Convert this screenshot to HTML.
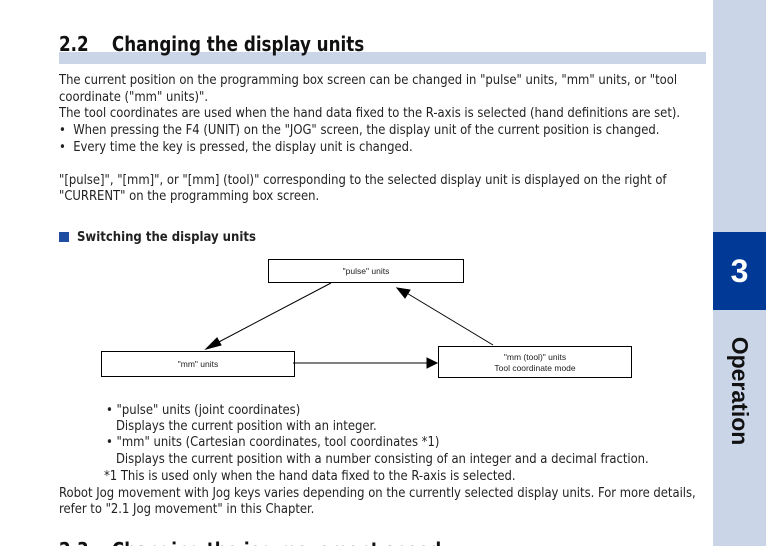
<!DOCTYPE html>
<html><head><style>
html,body{margin:0;width:766px;height:546px;overflow:hidden}
body{background:#fff;position:relative;font-family:"DejaVu Sans Condensed","Liberation Sans Narrow","Liberation Sans",sans-serif;color:#222}
.t{position:absolute;font-size:12.9px;white-space:nowrap;line-height:16px;margin-top:1px}
.side{position:absolute;left:713px;top:0;width:53px;height:546px;background:#cbd5e8}
.box{position:absolute;border:1px solid #000;font-family:"Liberation Sans",sans-serif;font-size:8.5px;text-align:center;background:#fff}
</style></head><body>
<div class="side"></div>
<div style="position:absolute;left:713px;top:232px;width:53px;height:78px;background:#003a96;color:#fff;font:bold 32px 'Liberation Sans',sans-serif;text-align:center;line-height:78px">3</div>
<div style="position:absolute;left:680px;top:376px;width:120px;height:30px;transform:rotate(90deg);font:bold 23px 'Liberation Sans',sans-serif;text-align:center;line-height:30px;color:#111">Operation</div>
<div style="position:absolute;left:59px;top:52px;width:647px;height:12px;background:#cbd5e8"></div>
<div style="position:absolute;left:59px;top:32px;font-size:20px;font-weight:bold;color:#111;white-space:nowrap;transform:scaleX(0.93);transform-origin:left">2.2&nbsp;&nbsp;&nbsp;&nbsp;Changing the display units</div>
<div class="t" style="left:59px;top:72px">The current position on the programming box screen can be changed in "pulse" units, "mm" units, or "tool</div>
<div class="t" style="left:59px;top:89px">coordinate ("mm" units)".</div>
<div class="t" style="left:59px;top:105px">The tool coordinates are used when the hand data fixed to the R-axis is selected (hand definitions are set).</div>
<div class="t" style="left:59px;top:122px">•&nbsp;&nbsp;When pressing the F4 (UNIT) on the "JOG" screen, the display unit of the current position is changed.</div>
<div class="t" style="left:59px;top:139px">•&nbsp;&nbsp;Every time the key is pressed, the display unit is changed.</div>
<div class="t" style="left:59px;top:172px">"[pulse]", "[mm]", or "[mm] (tool)" corresponding to the selected display unit is displayed on the right of</div>
<div class="t" style="left:59px;top:188px">"CURRENT" on the programming box screen.</div>
<div style="position:absolute;left:59px;top:232px;width:10px;height:10px;background:#1f4ea0"></div>
<div class="t" style="left:77px;top:229px;font-weight:bold;font-size:13px">Switching the display units</div>
<div class="box" style="left:268px;top:259px;width:194px;height:22px;line-height:22px">"pulse" units</div>
<div class="box" style="left:101px;top:351px;width:192px;height:24px;line-height:24px">"mm" units</div>
<div class="box" style="left:438px;top:346px;width:194px;height:32px;line-height:11px;padding-top:5px;box-sizing:border-box">"mm (tool)" units<br>Tool coordinate mode</div>
<svg style="position:absolute;left:0;top:0" width="766" height="546">
<g stroke="#000" stroke-width="1" fill="#000">
<line x1="331" y1="283" x2="215" y2="344"/><polygon points="206,349 217,338 221,345"/>
<line x1="293" y1="363" x2="428" y2="363"/><polygon points="437,363 427,358 427,368"/>
<line x1="493" y1="345" x2="405" y2="292"/><polygon points="397,288 410,290 405,298"/>
</g></svg>
<div class="t" style="left:106px;top:402px">•&nbsp;"pulse" units (joint coordinates)</div>
<div class="t" style="left:116px;top:418px">Displays the current position with an integer.</div>
<div class="t" style="left:106px;top:434px">•&nbsp;"mm" units (Cartesian coordinates, tool coordinates *1)</div>
<div class="t" style="left:116px;top:451px">Displays the current position with a number consisting of an integer and a decimal fraction.</div>
<div class="t" style="left:104px;top:468px">*1 This is used only when the hand data fixed to the R-axis is selected.</div>
<div class="t" style="left:59px;top:485px">Robot Jog movement with Jog keys varies depending on the currently selected display units. For more details,</div>
<div class="t" style="left:59px;top:501px">refer to "2.1 Jog movement" in this Chapter.</div>
<div style="position:absolute;left:59px;top:538px;font-size:20px;font-weight:bold;color:#111;white-space:nowrap;transform:scaleX(0.93);transform-origin:left">2.3&nbsp;&nbsp;&nbsp;&nbsp;Changing the jog movement speed</div>
</body></html>
